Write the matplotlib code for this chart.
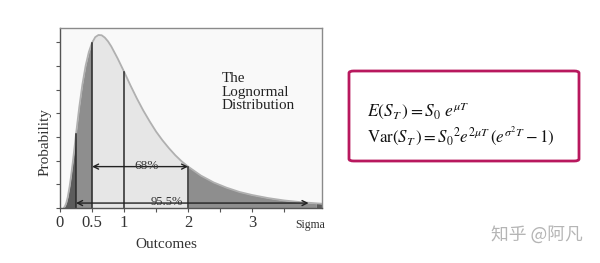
import numpy as np
import matplotlib
matplotlib.use("Agg")
import matplotlib.pyplot as plt
from matplotlib.patches import FancyBboxPatch

# ---- data ----
outcome = [0.06, 0.08, 0.10, 0.12, 0.15, 0.17, 0.20, 0.22, 0.25, 0.30, 0.35, 0.40,
           0.45, 0.50, 0.55, 0.60, 0.65, 0.70, 0.75, 0.80, 0.90, 1.00, 1.10, 1.20,
           1.30, 1.40, 1.50, 1.60, 1.70, 1.80, 1.90, 2.00, 2.20, 2.40, 2.60, 2.80,
           3.00, 3.25, 3.50, 3.75, 4.00, 4.10]
probability = [0.000, 0.009, 0.023, 0.045, 0.091, 0.129, 0.194, 0.241, 0.312, 0.425,
               0.523, 0.601, 0.659, 0.698, 0.722, 0.731, 0.730, 0.720, 0.704, 0.683,
               0.632, 0.576, 0.518, 0.463, 0.412, 0.366, 0.323, 0.286, 0.253, 0.223,
               0.197, 0.175, 0.137, 0.108, 0.086, 0.068, 0.055, 0.042, 0.032, 0.025,
               0.020, 0.018]
band_edges = [0.0, 0.25, 0.5, 2.0, 4.0, 4.1]
band_colors = ["#5c5c5c", "#8e8e8e", "#e6e6e6", "#8e8e8e", "#5c5c5c"]
marker_x = [0.25, 0.5, 1.0, 2.0]
xtick_pos = [0, 0.5, 1, 2, 3]
xtick_labels = ["0", "0.5", "1", "2", "3"]
minor_xticks = [1.5, 2.5, 3.5]
ytick_pos = [0, 0.1, 0.2, 0.3, 0.4, 0.5, 0.6, 0.7]
arrow68 = (0.5, 2.0, 0.175, "68%")
arrow95 = (0.25, 3.88, 0.021, "95.5%")

x = np.array(outcome)
y = np.array(probability)

fig = plt.figure(figsize=(6.0, 2.63), dpi=100)
fig.patch.set_facecolor("white")
ax = fig.add_axes([0.1, 0.209, 0.4367, 0.684])
ax.set_facecolor("#f9f9f9")

for (a, b), c in zip(zip(band_edges[:-1], band_edges[1:]), band_colors):
    m = (x >= a) & (x <= b)
    ax.fill_between(x[m], 0, y[m], color=c, lw=0)

ax.plot(x, y, color="#b0b0b0", lw=1.3)

for mx in marker_x:
    i = outcome.index(mx)
    ax.plot([mx, mx], [0, probability[i]], color="#2a2a2a", lw=1.1)

serif = ["Liberation Serif", "DejaVu Serif"]

for (x0, x1, yy, lab), tx, fs in [(arrow68, 1.35, 9.5), (arrow95, 1.67, 9.0)]:
    ax.annotate("", xy=(x0, yy), xytext=(x1, yy),
                arrowprops=dict(arrowstyle="<->", color="#222222", lw=1.0,
                                mutation_scale=9, shrinkA=0, shrinkB=0))
    ax.text(tx, yy + 0.004, lab, ha="center", va="center", fontsize=fs,
            family=serif, color="#333333")

ax.set_xlim(0, 4.09)
ax.set_ylim(0, 0.76)
ax.set_xticks(xtick_pos)
ax.set_xticklabels(xtick_labels, family=serif, fontsize=12, color="#333333")
ax.set_xticks(minor_xticks, minor=True)
ax.set_yticks(ytick_pos)
ax.set_yticklabels([])
ax.tick_params(axis="both", which="both", direction="out", length=3,
               color="#555555", width=0.8)
ax.tick_params(axis="x", pad=2)
for s in ax.spines.values():
    s.set_color("#8a8a8a")
    s.set_linewidth(1.0)
ax.spines["bottom"].set_color("#555555")
ax.spines["left"].set_color("#555555")

ax.text(3.9, -0.07, "Sigma", ha="center", va="center", fontsize=8.5,
        family=serif, color="#333333")
ax.set_xlabel("Outcomes", family=serif, fontsize=11, color="#333333")
ax.xaxis.set_label_coords(0.405, -0.204)
ax.xaxis.label.set_va("center")
ax.set_ylabel("Probability", family=serif, fontsize=11, color="#333333")
ax.yaxis.set_label_coords(-0.057, 0.368)
ax.yaxis.label.set_va("center")

ax.text(2.52, 0.575, "The\nLognormal\nDistribution", ha="left", va="top",
        fontsize=10.9, family=serif, color="#222222", linespacing=1.07)

# formula box
plt.rcParams["mathtext.fontset"] = "stix"
box = FancyBboxPatch((349 / 600, 1 - 161 / 263), (579 - 349) / 600, (161 - 71) / 263,
                     boxstyle="round,pad=0,rounding_size=0.008",
                     transform=fig.transFigure, fill=False,
                     edgecolor="#b8185e", lw=2.0)
fig.patches.append(box)
fig.text(367 / 600, 1 - 116 / 263, r"$E(S_T\,) = S_0\ e^{\mu T}$", fontsize=12.5,
         ha="left", va="baseline", color="#111111")
fig.text(367 / 600, 1 - 143 / 263,
         r"$\mathrm{Var}(S_T\,) = {S_0}^2 e^{2\mu T}\,(e^{\sigma^2 T} - 1)$",
         fontsize=12.2, ha="left", va="baseline", color="#111111")

fig.text(583 / 600, 1 - 235 / 263, "知乎 @阿凡", ha="right", va="center",
         fontsize=12.8, color="#b5b5b5", family=["Noto Sans CJK SC", "DejaVu Sans"])

fig.savefig("out.png", dpi=100, facecolor="white")
